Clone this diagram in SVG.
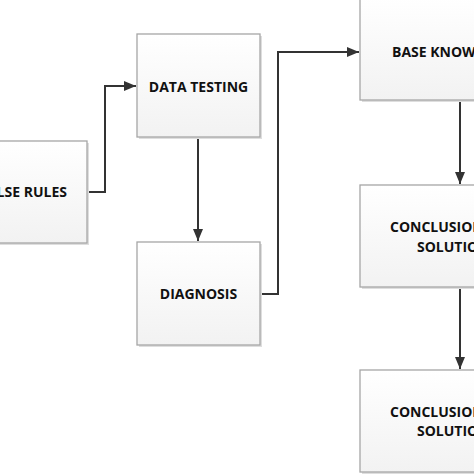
<svg xmlns="http://www.w3.org/2000/svg" width="474" height="474" viewBox="0 0 474 474">
<style>
.box{fill:url(#g);stroke:#a6a6a6;stroke-width:1.3}
.sh{fill:#dedede}
.t{font-family:"Open Sans","DejaVu Sans",sans-serif;font-weight:bold;font-size:14px;fill:#111}
.c{fill:none;stroke:#333;stroke-width:2;marker-end:url(#a)}
</style>
<defs>
<linearGradient id="g" x1="0" y1="0" x2="0" y2="1">
<stop offset="0" stop-color="#ffffff"/>
<stop offset="1" stop-color="#f2f2f2"/>
</linearGradient>
<marker id="a" markerWidth="12" markerHeight="10" refX="12" refY="5" orient="auto" markerUnits="userSpaceOnUse">
<path d="M0,0 L12,5 L0,10 Z" fill="#333"/>
</marker>
</defs>
<rect width="474" height="474" fill="#fff"/>
<g id="connectors">
<path class="c" d="M87,192 H105 V86 H136"/>
<path class="c" d="M198,137 V241"/>
<path class="c" d="M260,294 H278 V52 H359"/>
<path class="c" d="M460,100 V184"/>
<path class="c" d="M460,287 V369"/>
</g>
<g id="n-rules">
<rect class="sh" x="-40" y="143" width="129" height="102"/>
<rect class="box" x="-40" y="141" width="127" height="102"/>
<text class="t" x="67" y="197" text-anchor="end">LSE RULES</text>
</g>
<g id="n-datatesting">
<rect class="sh" x="139" y="36" width="123" height="103"/>
<rect class="box" x="137" y="34" width="123" height="103"/>
<text class="t" x="198.5" y="92" text-anchor="middle">DATA TESTING</text>
</g>
<g id="n-diagnosis">
<rect class="sh" x="139" y="244" width="123" height="103"/>
<rect class="box" x="137" y="242" width="123" height="103"/>
<text class="t" x="198.5" y="299" text-anchor="middle">DIAGNOSIS</text>
</g>
<g id="n-baseknowledge">
<rect class="sh" x="362" y="-1" width="200" height="103"/>
<rect class="box" x="360" y="-3" width="200" height="103"/>
<text class="t" x="392" y="57">BASE KNOWLEDGE</text>
</g>
<g id="n-conclusion1">
<rect class="sh" x="362" y="187" width="200" height="102"/>
<rect class="box" x="360" y="185" width="200" height="102"/>
<text class="t" x="390" y="232">CONCLUSION</text>
<text class="t" x="417" y="252">SOLUTION</text>
</g>
<g id="n-conclusion2">
<rect class="sh" x="362" y="372" width="200" height="102"/>
<rect class="box" x="360" y="370" width="200" height="102"/>
<text class="t" x="390" y="417">CONCLUSION</text>
<text class="t" x="417" y="436">SOLUTION</text>
</g>
</svg>
